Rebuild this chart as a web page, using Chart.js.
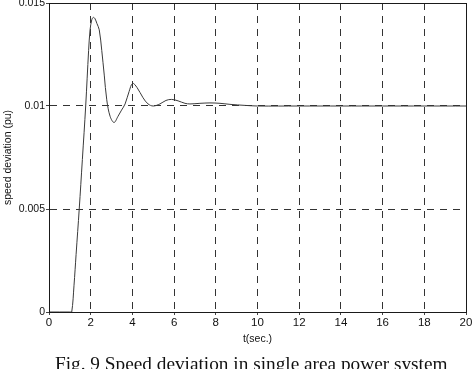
<!DOCTYPE html>
<html>
<head>
<meta charset="utf-8">
<script src="https://cdn.jsdelivr.net/npm/chart.js@4/dist/chart.umd.min.js"></script>
<style>
  html, body { margin: 0; padding: 0; background: #fff; overflow: hidden; }
  #wrap { position: relative; width: 474px; height: 369px; }
  #caption {
    position: absolute; left: 55px; top: 354px;
    font-family: "Liberation Serif", "Times New Roman", serif;
    font-size: 19.3px; line-height: 19px; white-space: nowrap; color: #111;
  }
</style>
</head>
<body>
<div id="wrap">
  <canvas id="speedChart" width="474" height="369"></canvas>
  <div id="caption">Fig. 9 Speed deviation in single area power system</div>
</div>
<script>
// values
const timeSec = [0, 1.0, 1.09, 1.2, 1.3, 1.45, 1.6, 1.76, 1.9, 1.97, 2.05, 2.12, 2.2, 2.3, 2.41,
  2.53, 2.65, 2.77, 2.93, 3.12, 3.31, 3.48, 3.65, 3.84, 4.01, 4.22, 4.51, 4.75, 5.0, 5.32,
  5.61, 5.88, 6.19, 6.52, 6.76, 7.24, 7.72, 8.2, 8.68, 9.4, 10, 12, 14, 16, 18, 20];
const speedDev = [0, 0, 0, 0.0013, 0.0028, 0.0050, 0.0074, 0.0100, 0.0127, 0.0137, 0.01418,
  0.0143, 0.01425, 0.0140, 0.0137, 0.0127, 0.0115, 0.0103, 0.0095, 0.0092, 0.0095, 0.0098,
  0.0101, 0.0107, 0.0111, 0.0109, 0.0104, 0.0101, 0.0100, 0.0101, 0.01027, 0.01032, 0.01025,
  0.01013, 0.0101, 0.01013, 0.01015, 0.01013, 0.01008, 0.01003, 0.0100, 0.0100, 0.0100,
  0.0100, 0.0100, 0.0100];

const xTicks = [0, 2, 4, 6, 8, 10, 12, 14, 16, 18, 20];
const yTicks = [0, 0.005, 0.01, 0.015];
const yTickLabels = ["0", "0.005", "0.01", "0.015"];

const points = timeSec.map((t, i) => ({ x: t, y: speedDev[i] }));

// solid box round the plot, like matlab's axes
const frame = {
  id: "frame",
  afterDraw(chart) {
    const { ctx, chartArea: a } = chart;
    ctx.save();
    ctx.strokeStyle = "#1a1a1a";
    ctx.lineWidth = 1;
    ctx.strokeRect(Math.round(a.left) + 0.5, Math.round(a.top) + 0.5,
      Math.round(a.right - a.left), Math.round(a.bottom - a.top));
    ctx.restore();
  }
};

const font = '"Liberation Sans", Arial, sans-serif';

new Chart(document.getElementById("speedChart"), {
  type: "line",
  data: {
    datasets: [{
      data: points,
      borderColor: "#3a3a3a",
      borderWidth: 1,
      pointRadius: 0,
      fill: false,
      tension: 0.35
    }]
  },
  options: {
    responsive: false,
    animation: false,
    layout: { padding: { top: 3, right: 8, bottom: 24, left: 0 } },
    plugins: { legend: { display: false }, tooltip: { enabled: false } },
    scales: {
      x: {
        type: "linear",
        min: 0,
        max: 20,
        afterBuildTicks: (s) => { s.ticks = xTicks.map((v) => ({ value: v })); },
        afterFit: (s) => { s.height = 33; s.paddingLeft = 0; s.paddingRight = 0; },
        ticks: {
          color: "#111",
          padding: 1,
          maxRotation: 0,
          font: { family: font, size: 11.5 },
          callback: (v) => String(v)
        },
        grid: { color: "#333", lineWidth: 1, tickLength: 3, tickColor: "#444" },
        border: { display: true, color: "#1a1a1a", dash: [7, 6] },
        title: {
          display: true,
          text: "t(sec.)",
          color: "#111",
          padding: { top: 0, bottom: 0 },
          font: { family: font, size: 10.5 }
        }
      },
      y: {
        type: "linear",
        min: 0,
        max: 0.015,
        afterBuildTicks: (s) => { s.ticks = yTicks.map((v) => ({ value: v })); },
        afterFit: (s) => { s.width = 49; s.paddingTop = 0; s.paddingBottom = 0; },
        ticks: {
          color: "#111",
          padding: 1,
          font: { family: font, size: 10.5 },
          callback: (v) => yTickLabels[yTicks.indexOf(v)] ?? ""
        },
        grid: { color: "#333", lineWidth: 1, tickLength: 3, tickColor: "#444" },
        border: { display: true, color: "#1a1a1a", dash: [7, 6] },
        title: {
          display: true,
          text: "speed deviation (pu)",
          color: "#111",
          padding: { top: 2, bottom: 0 },
          font: { family: font, size: 10.5 }
        }
      }
    }
  },
  plugins: [frame]
});
</script>
</body>
</html>
